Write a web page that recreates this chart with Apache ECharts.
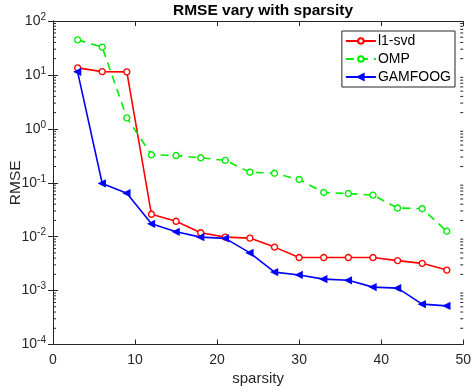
<!DOCTYPE html>
<html><head><meta charset="utf-8">
<script src="https://cdn.jsdelivr.net/npm/echarts@6/dist/echarts.min.js"></script>
<style>html,body{margin:0;padding:0;background:#fff}#c{width:474px;height:391px}</style>
</head><body><div id="c"></div>
<script>
const sparsity = [3,6,9,12,15,18,21,24,27,30,33,36,39,42,45,48];
const l1svd   = [13.5,11.5,11.4,0.026,0.0193,0.0118,0.0098,0.0094,0.0064,0.0041,0.0041,0.0041,0.0041,0.0036,0.0032,0.0024];
const omp     = [44.7,32.7,1.6,0.33,0.32,0.29,0.26,0.157,0.150,0.115,0.066,0.063,0.059,0.034,0.033,0.0126];
const gamfoog = [11.4,0.097,0.064,0.0173,0.0123,0.0098,0.0093,0.0050,0.0022,0.00195,0.00163,0.00155,0.00116,0.00111,0.00056,0.00052];
const seriesNames = ['l1-svd','OMP','GAMFOOG'];
const xTicks = [0,10,20,30,40,50];
const decades = [-4,-3,-2,-1,0,1];
const minorMult = [2,3,4,5,6,7,8,9];

const FONT = '"Liberation Sans", Arial, sans-serif';
const AX = '#262626';
function pairs(v){ return sparsity.map((x,i)=>[x,v[i]]); }
const minorVals = [];
decades.forEach(d=>minorMult.forEach(m=>minorVals.push(m*Math.pow(10,d))));

const chart = echarts.init(document.getElementById('c'), null, {renderer:'canvas'});
const sup = {fontSize:10, verticalAlign:'top', padding:[0,0,8,0], color:AX, fontFamily:FONT};
const tickStyle = {show:true, inside:true, length:5, lineStyle:{color:AX,width:1}};
chart.setOption({
  animation:false,
  title:{text:'RMSE vary with sparsity', left:258, textAlign:'center', top:-2,
    textStyle:{fontFamily:FONT, fontSize:15.5, fontWeight:'bold', color:'#000'}},
  grid:{left:52, right:9, top:21, bottom:44, containLabel:false},
  legend:{right:19, top:31, orient:'vertical', itemGap:4, itemWidth:30, itemHeight:7,
    backgroundColor:'#fff', borderColor:AX, borderWidth:1, padding:[3,4,3,3],
    textStyle:{fontFamily:FONT, fontSize:14, color:'#000', padding:[0,0,0,-3]},
    data:seriesNames},
  xAxis:[{type:'value', min:0, max:50, interval:10, position:'bottom',
    axisLine:{show:true, lineStyle:{color:AX}}, axisTick:tickStyle,
    axisLabel:{show:true, fontFamily:FONT, fontSize:14, lineHeight:14, color:AX, margin:9},
    splitLine:{show:false},
    name:'sparsity', nameLocation:'middle', nameGap:27, nameMoveOverlap:false,
    nameTextStyle:{fontFamily:FONT, fontSize:15, lineHeight:14, color:AX}},
   {type:'value', position:'top', min:0, max:50, interval:10,
    axisLine:{show:true, lineStyle:{color:AX}}, axisTick:tickStyle,
    axisLabel:{show:false}, splitLine:{show:false}}],
  yAxis:[{type:'log', logBase:10, min:1e-4, max:1e2, position:'left',
    axisLine:{show:true, lineStyle:{color:AX}}, axisTick:tickStyle,
    splitLine:{show:false},
    axisLabel:{fontFamily:FONT, fontSize:14, color:AX, margin:7,
      formatter:function(v){ const e=Math.round(Math.log10(v)); return '10{s|'+e+'}'; },
      rich:{s:sup}},
    name:'RMSE', nameLocation:'middle', nameGap:29, nameMoveOverlap:false,
    nameTextStyle:{fontFamily:FONT, fontSize:15.5, color:AX}},
   {type:'log', logBase:10, min:1e-4, max:1e2, position:'right',
    axisLine:{show:true, lineStyle:{color:AX}}, axisTick:tickStyle,
    splitLine:{show:false}, axisLabel:{show:false}}],
  series:[
    {name:'minor', type:'custom', silent:true, legendHoverLink:false,
     data:minorVals.map(v=>[0,v]),
     renderItem:function(params, api){
       const l = api.coord([0, api.value(1)]);
       const r = api.coord([50, api.value(1)]);
       return {type:'group', children:[
         {type:'line', shape:{x1:l[0], y1:l[1], x2:l[0]+3, y2:l[1]}, style:{stroke:AX, lineWidth:1}},
         {type:'line', shape:{x1:r[0], y1:r[1], x2:r[0]-3, y2:r[1]}, style:{stroke:AX, lineWidth:1}}
       ]};
     }},
    {name:'l1-svd', type:'line', data:pairs(l1svd), symbol:'circle', symbolSize:6,
     lineStyle:{color:'#ff0000', width:1.6}, itemStyle:{color:'#fff', borderColor:'#ff0000', borderWidth:1.4}, color:'#ff0000'},
    {name:'OMP', type:'line', data:pairs(omp), symbol:'circle', symbolSize:6,
     lineStyle:{color:'#00ee00', width:1.6, type:[8,6]}, itemStyle:{color:'#fff', borderColor:'#00ee00', borderWidth:1.4}, color:'#00ee00'},
    {name:'GAMFOOG', type:'line', data:pairs(gamfoog), symbol:'triangle', symbolRotate:90, symbolSize:6,
     lineStyle:{color:'#0000ff', width:1.6}, itemStyle:{color:'#0000ff', borderColor:'#0000ff', borderWidth:1.4}, color:'#0000ff'}
  ]
});
</script></body></html>
